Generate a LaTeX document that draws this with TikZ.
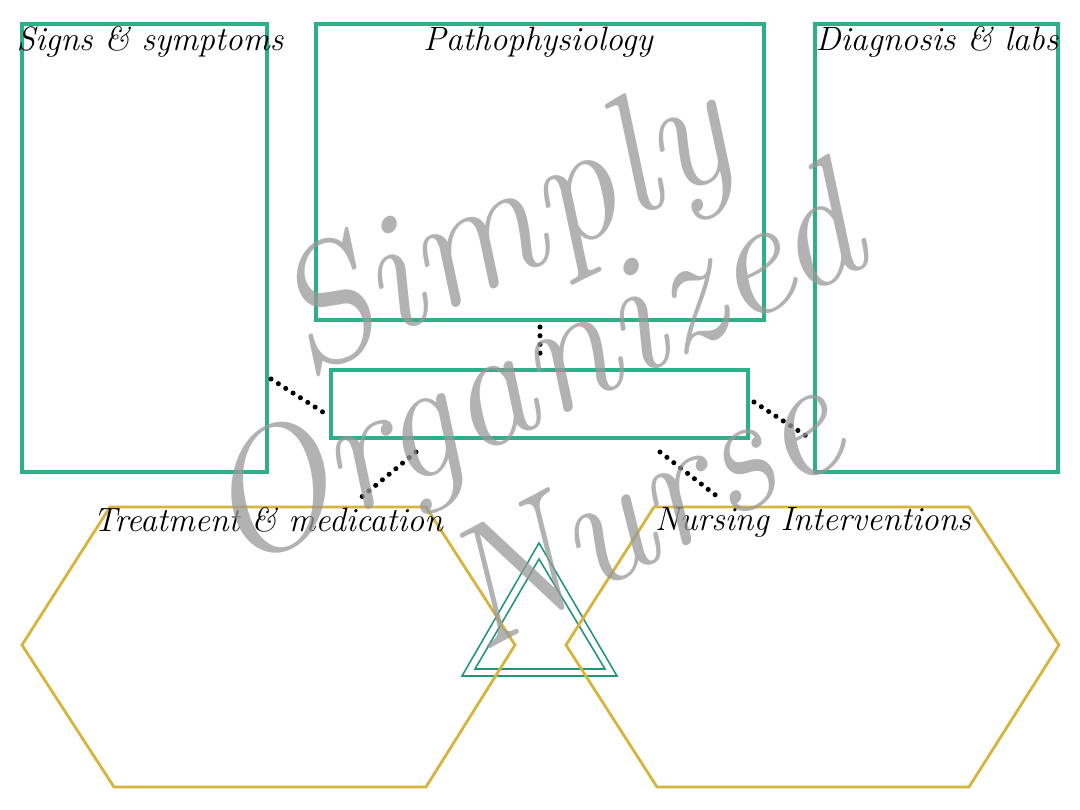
\documentclass[tikz,border=0pt]{standalone}
\usepackage{tikz}
\usepackage{xcolor}

\definecolor{boxgreen}{RGB}{45,176,136}
\definecolor{trigreen}{RGB}{32,150,122}
\definecolor{hexgold}{RGB}{214,180,62}

\begin{document}
\begin{tikzpicture}[x=0.025cm, y=-0.025cm,
    greenbox/.style={draw=boxgreen, line width=2.8pt},
    hexline/.style={draw=hexgold, line width=2pt},
    triline/.style={draw=trigreen, line width=1.1pt},
    dotline/.style={line width=3.6pt, line cap=round, dash pattern=on 0pt off 6.2pt},
    heading/.style={font=\fontsize{24}{28}\selectfont\itshape},
    wmark/.style={font=\fontsize{120}{120}\selectfont\itshape, text=black!40, opacity=0.75}]
    \useasboundingbox (0,0) rectangle (1080,810);
    \fill[white] (0,0) rectangle (1080,810);

    \draw[greenbox] (22,24) rectangle (267,472);
    \draw[greenbox] (316,24) rectangle (764,320);
    \draw[greenbox] (815,24) rectangle (1058,472);
    \draw[greenbox] (331,370) rectangle (748,438);

    \coordinate (pa) at (540,327);
    \coordinate (pb) at (540,360);
    \coordinate (la) at (271,379);
    \coordinate (lb) at (326,414);
    \coordinate (ra) at (754,402);
    \coordinate (rb) at (808,437);
    \coordinate (bla) at (416,452);
    \coordinate (blb) at (358,500);
    \coordinate (bra) at (660,452);
    \coordinate (brb) at (718,497);

    \foreach \a/\b in {pa/pb, la/lb, ra/rb, bla/blb, bra/brb}
    \draw[dotline] (\a) -- (\b);

    \draw[triline] (539,543) -- (617,676) -- (462,676) -- cycle;
    \draw[triline] (539,559) -- (605,669) -- (475,669) -- cycle;

    \draw[hexline] (110,507) -- (426,507) -- (515,645) -- (426,787) -- (114,787) -- (22,645) -- cycle;
    \draw[hexline] (654,507) -- (969,507) -- (1059,645) -- (969,787) -- (657,787) -- (566,645) -- cycle;

    \node[heading] (signs) at (150,42) {Signs \& symptoms};
    \node[heading] (patho) at (538,42) {Pathophysiology};
    \node[heading] (diag) at (937,42) {Diagnosis \& labs};
    \node[heading] (treat) at (268,520) {Treatment \& medication};
    \node[heading] (nurs) at (813,522) {Nursing Interventions};

    \node[wmark, rotate=26] (wsimply) at (505,235) {Simply};
    \node[wmark, rotate=26] (worg) at (535,380) {Organized};
    \node[wmark, rotate=28] (wnurse) at (640,505) {Nurse};
\end{tikzpicture}
\end{document}
